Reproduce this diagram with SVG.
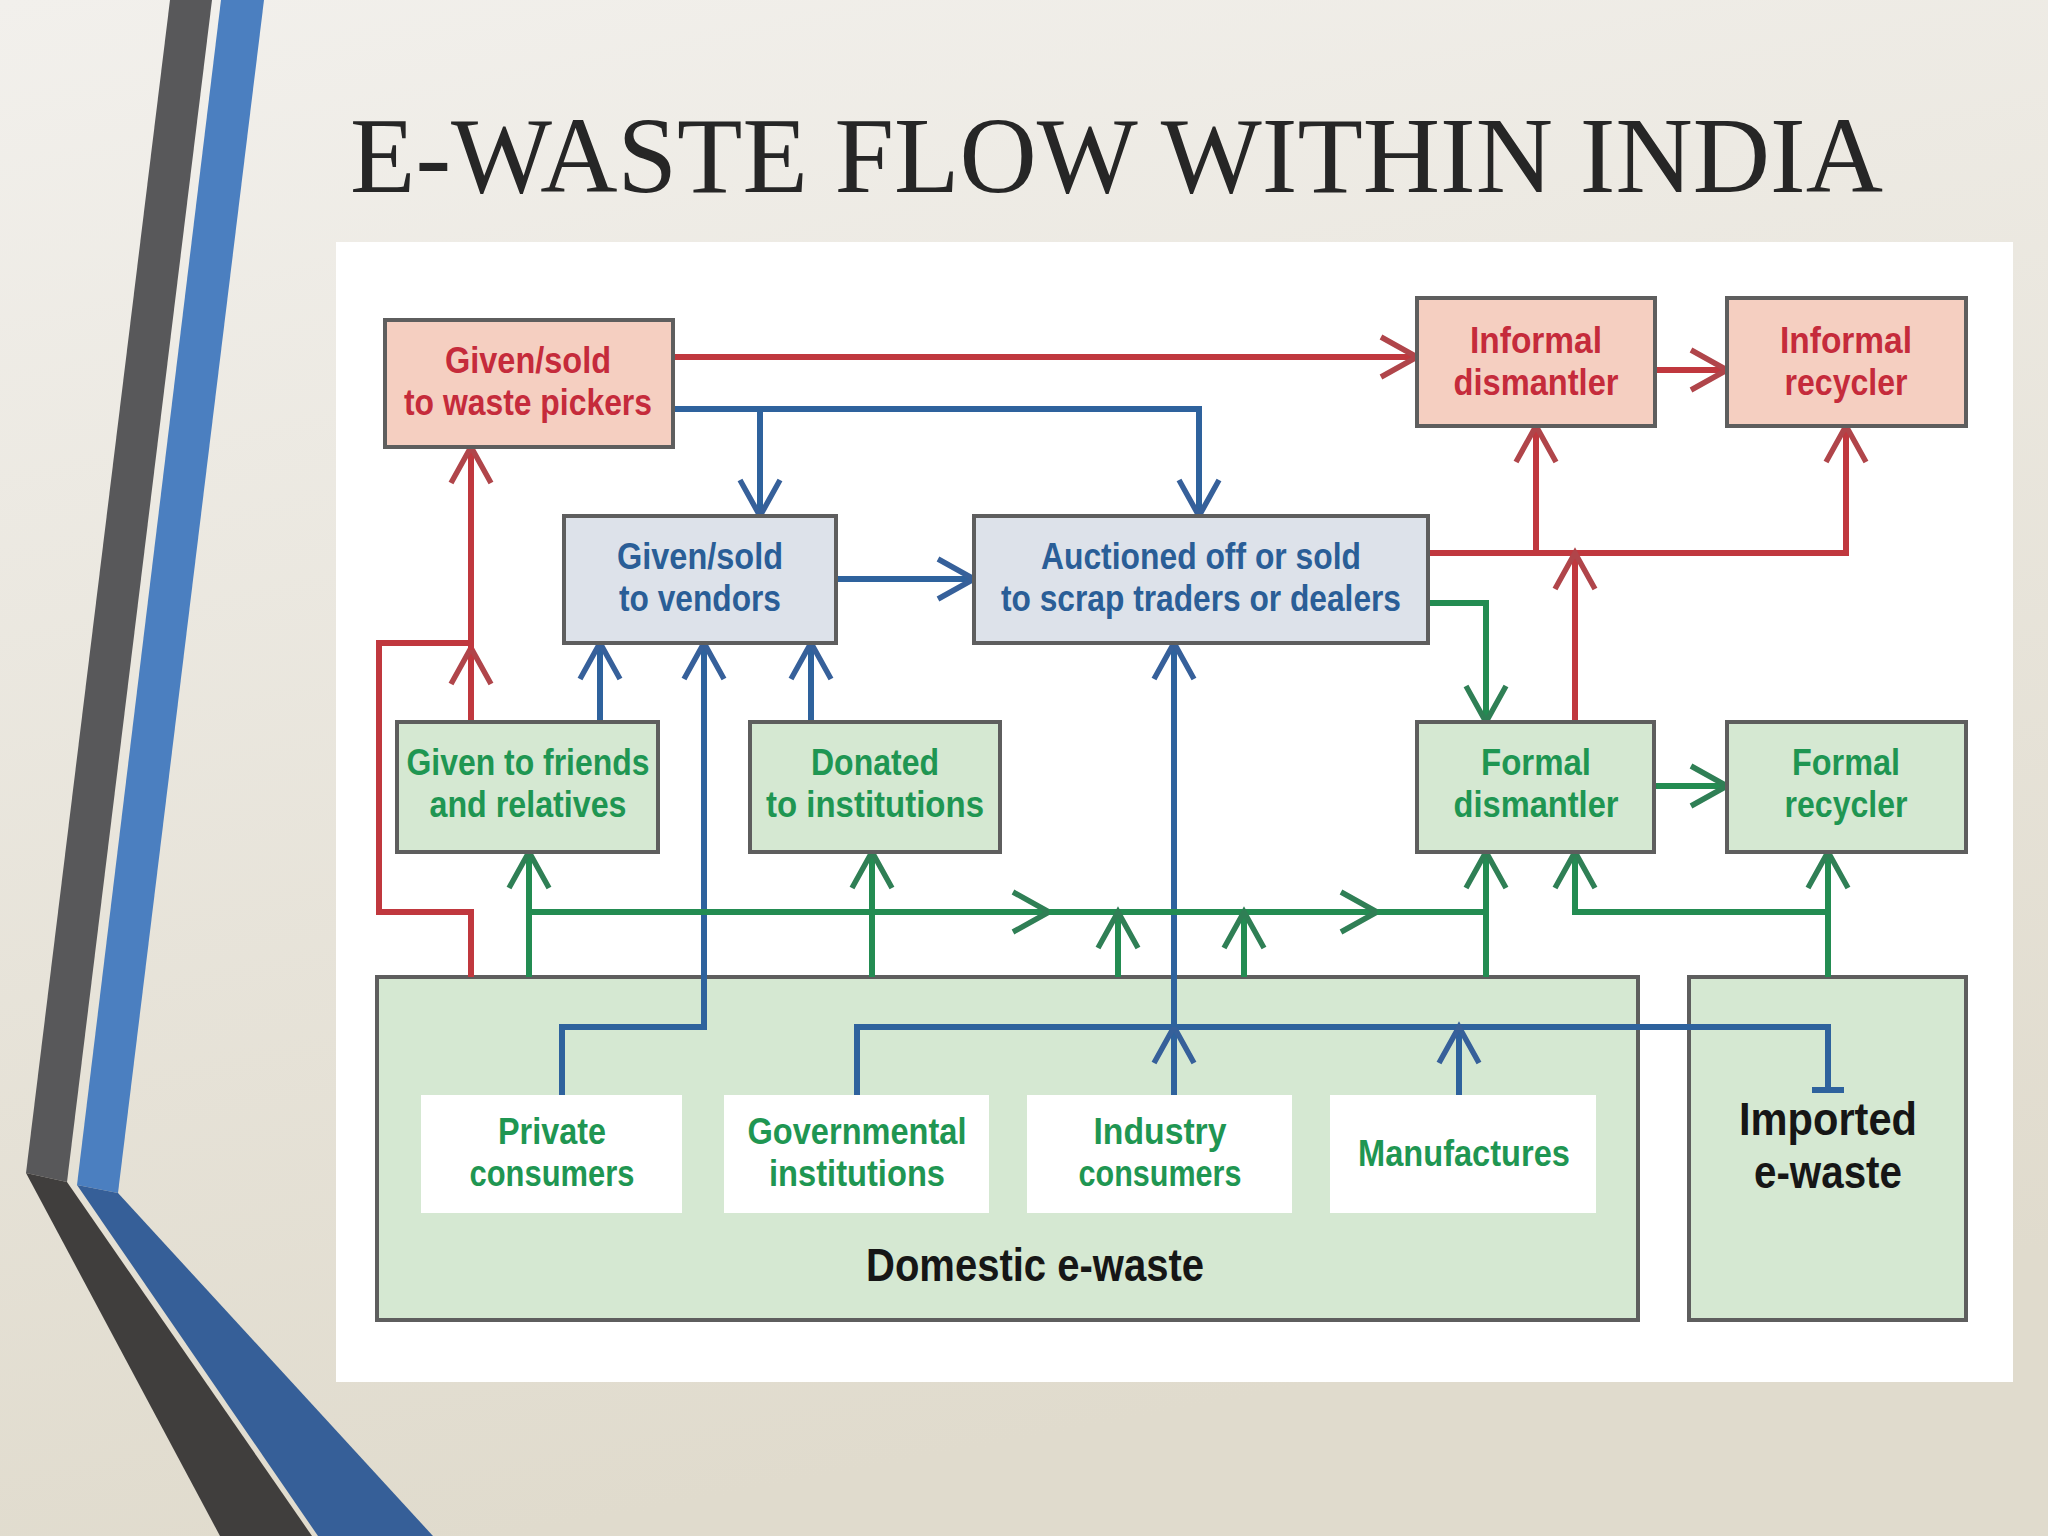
<svg xmlns="http://www.w3.org/2000/svg" width="2048" height="1536" viewBox="0 0 2048 1536">
<defs>
<linearGradient id="bg" x1="0" y1="0" x2="0.25" y2="1">
<stop offset="0" stop-color="#f2f0ec"/>
<stop offset="1" stop-color="#e0dbcd"/>
</linearGradient>
<marker id="mr" markerUnits="userSpaceOnUse" orient="auto" refX="0" refY="0" markerWidth="60" markerHeight="60" viewBox="-50 -30 60 60" overflow="visible"><path d="M-36,-20 L0,0 L-36,20" fill="none" stroke="#b0454a" stroke-width="5.5"/></marker>
<marker id="mb" markerUnits="userSpaceOnUse" orient="auto" refX="0" refY="0" markerWidth="60" markerHeight="60" viewBox="-50 -30 60 60" overflow="visible"><path d="M-36,-20 L0,0 L-36,20" fill="none" stroke="#36609a" stroke-width="5.5"/></marker>
<marker id="mg" markerUnits="userSpaceOnUse" orient="auto" refX="0" refY="0" markerWidth="60" markerHeight="60" viewBox="-50 -30 60 60" overflow="visible"><path d="M-36,-20 L0,0 L-36,20" fill="none" stroke="#2f7f55" stroke-width="5.5"/></marker>
</defs>
<style>
.box{stroke:#5e5e5e;stroke-width:4}
.pink{fill:#f5cfc1}
.bluef{fill:#dde2ea}
.greenf{fill:#d5e8d2}
.whitef{fill:#ffffff}
.lbl{font-family:"Liberation Sans",Arial,sans-serif;font-weight:700;font-size:37.5px;text-anchor:middle}
.big{font-family:"Liberation Sans",Arial,sans-serif;font-weight:700;text-anchor:middle;fill:#161616}
.tr{fill:#c52b3b}
.tb{fill:#2a5e97}
.tg{fill:#1f9652}
.r{fill:none;stroke:#c0383e;stroke-width:6}
.b{fill:none;stroke:#2e629d;stroke-width:6}
.g{fill:none;stroke:#238c52;stroke-width:6}
.ar{marker-end:url(#mr)}
.ab{marker-end:url(#mb)}
.ag{marker-end:url(#mg)}
</style>

<rect x="0" y="0" width="2048" height="1536" fill="url(#bg)"/>

<g id="decor">
<polygon points="170,0 212,0 67,1182 26,1173" fill="#58585a"/>
<polygon points="26,1173 67,1182 312,1536 220,1536" fill="#403e3d"/>
<polygon points="221,0 264,0 118,1193 77,1185" fill="#4b7fc0"/>
<polygon points="77,1185 118,1193 433,1536 318,1536" fill="#365f98"/>
</g>

<text id="title" x="350" y="192" textLength="1533" lengthAdjust="spacingAndGlyphs" font-family="'Liberation Serif','Times New Roman',serif" font-size="107" fill="#262626">E-WASTE FLOW WITHIN INDIA</text>

<rect id="panel" x="336" y="242" width="1677" height="1140" fill="#ffffff"/>

<g id="domestic">
<rect class="box greenf" x="377" y="977" width="1261" height="343"/>
<text class="big" x="1035" y="1281" font-size="46" textLength="338" lengthAdjust="spacingAndGlyphs">Domestic e-waste</text>
</g>
<g id="imported">
<rect class="box greenf" x="1689" y="977" width="277" height="343"/>
<text class="big" x="1828" y="1135" font-size="46.5" textLength="178" lengthAdjust="spacingAndGlyphs">Imported</text>
<text class="big" x="1828" y="1188" font-size="46.5" textLength="148" lengthAdjust="spacingAndGlyphs">e-waste</text>
</g>

<g id="connectors">
<path class="r ar" d="M673,357 H1417"/>
<path class="r ar" d="M1655,370 H1727"/>
<path class="r ar" d="M1428,553 H1846 V426"/>
<path class="r ar" d="M1536,553 V426"/>
<path class="r ar" d="M1575,722 V553"/>
<path class="r" d="M471,977 V912 H379 V643 H471"/>
<path class="r ar" d="M471,722 V648"/>
<path class="r ar" d="M471,650 V447"/>

<path class="b ab" d="M673,409 H1199 V516"/>
<path class="b ab" d="M760,409 V516"/>
<path class="b ab" d="M836,579 H974"/>
<path class="b ab" d="M600,722 V643"/>
<path class="b ab" d="M811,722 V643"/>
<path class="b ab" d="M562,1095 V1027 H704 V643"/>
<path class="b" d="M857,1095 V1027 H1828 V1090"/>
<path class="b" d="M1812,1090 H1844"/>
<path class="b ab" d="M1174,1095 V1027"/>
<path class="b ab" d="M1174,1027 V643"/>
<path class="b ab" d="M1459,1095 V1027"/>

<path class="g ag" d="M1428,603 H1486 V722"/>
<path class="g ag" d="M1654,786 H1727"/>
<path class="g ag" d="M529,977 V852"/>
<path class="g ag" d="M529,912 H1049"/>
<path class="g ag" d="M1049,912 H1377"/>
<path class="g" d="M1377,912 H1486"/>
<path class="g ag" d="M872,977 V852"/>
<path class="g ag" d="M1118,977 V912"/>
<path class="g ag" d="M1244,977 V912"/>
<path class="g ag" d="M1486,977 V852"/>
<path class="g ag" d="M1828,977 V852"/>
<path class="g ag" d="M1828,912 H1575 V852"/>
</g>

<g id="waste-pickers">
<rect class="box pink" x="385" y="320" width="288" height="127"/>
<text class="lbl tr" x="528" y="373" textLength="166" lengthAdjust="spacingAndGlyphs">Given/sold</text>
<text class="lbl tr" x="528" y="415" textLength="248" lengthAdjust="spacingAndGlyphs">to waste pickers</text>
</g>
<g id="informal-dismantler">
<rect class="box pink" x="1417" y="298" width="238" height="128"/>
<text class="lbl tr" x="1536" y="353" textLength="132" lengthAdjust="spacingAndGlyphs">Informal</text>
<text class="lbl tr" x="1536" y="395" textLength="165" lengthAdjust="spacingAndGlyphs">dismantler</text>
</g>
<g id="informal-recycler">
<rect class="box pink" x="1727" y="298" width="239" height="128"/>
<text class="lbl tr" x="1846" y="353" textLength="132" lengthAdjust="spacingAndGlyphs">Informal</text>
<text class="lbl tr" x="1846" y="395" textLength="123" lengthAdjust="spacingAndGlyphs">recycler</text>
</g>
<g id="vendors">
<rect class="box bluef" x="564" y="516" width="272" height="127"/>
<text class="lbl tb" x="700" y="569" textLength="166" lengthAdjust="spacingAndGlyphs">Given/sold</text>
<text class="lbl tb" x="700" y="611" textLength="162" lengthAdjust="spacingAndGlyphs">to vendors</text>
</g>
<g id="scrap-traders">
<rect class="box bluef" x="974" y="516" width="454" height="127"/>
<text class="lbl tb" x="1201" y="569" textLength="320" lengthAdjust="spacingAndGlyphs">Auctioned off or sold</text>
<text class="lbl tb" x="1201" y="611" textLength="400" lengthAdjust="spacingAndGlyphs">to scrap traders or dealers</text>
</g>
<g id="friends">
<rect class="box greenf" x="397" y="722" width="261" height="130"/>
<text class="lbl tg" x="528" y="775" textLength="243" lengthAdjust="spacingAndGlyphs">Given to friends</text>
<text class="lbl tg" x="528" y="817" textLength="197" lengthAdjust="spacingAndGlyphs">and relatives</text>
</g>
<g id="donated">
<rect class="box greenf" x="750" y="722" width="250" height="130"/>
<text class="lbl tg" x="875" y="775" textLength="128" lengthAdjust="spacingAndGlyphs">Donated</text>
<text class="lbl tg" x="875" y="817" textLength="218" lengthAdjust="spacingAndGlyphs">to institutions</text>
</g>
<g id="formal-dismantler">
<rect class="box greenf" x="1417" y="722" width="237" height="130"/>
<text class="lbl tg" x="1536" y="775" textLength="110" lengthAdjust="spacingAndGlyphs">Formal</text>
<text class="lbl tg" x="1536" y="817" textLength="165" lengthAdjust="spacingAndGlyphs">dismantler</text>
</g>
<g id="formal-recycler">
<rect class="box greenf" x="1727" y="722" width="239" height="130"/>
<text class="lbl tg" x="1846" y="775" textLength="108" lengthAdjust="spacingAndGlyphs">Formal</text>
<text class="lbl tg" x="1846" y="817" textLength="123" lengthAdjust="spacingAndGlyphs">recycler</text>
</g>
<g id="private">
<rect class="whitef" x="421" y="1095" width="261" height="118"/>
<text class="lbl tg" x="552" y="1144" textLength="108" lengthAdjust="spacingAndGlyphs">Private</text>
<text class="lbl tg" x="552" y="1186" textLength="165" lengthAdjust="spacingAndGlyphs">consumers</text>
</g>
<g id="governmental">
<rect class="whitef" x="724" y="1095" width="265" height="118"/>
<text class="lbl tg" x="857" y="1144" textLength="219" lengthAdjust="spacingAndGlyphs">Governmental</text>
<text class="lbl tg" x="857" y="1186" textLength="176" lengthAdjust="spacingAndGlyphs">institutions</text>
</g>
<g id="industry">
<rect class="whitef" x="1027" y="1095" width="265" height="118"/>
<text class="lbl tg" x="1160" y="1144" textLength="133" lengthAdjust="spacingAndGlyphs">Industry</text>
<text class="lbl tg" x="1160" y="1186" textLength="163" lengthAdjust="spacingAndGlyphs">consumers</text>
</g>
<g id="manufactures">
<rect class="whitef" x="1330" y="1095" width="266" height="118"/>
<text class="lbl tg" x="1464" y="1166" textLength="212" lengthAdjust="spacingAndGlyphs">Manufactures</text>
</g>
</svg>
